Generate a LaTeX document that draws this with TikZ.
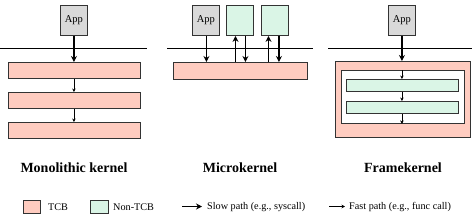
\documentclass[tikz,border=0pt]{standalone}
\usepackage{fontspec}
\setmainfont{Liberation Serif}
\usetikzlibrary{arrows.meta}
\definecolor{tcb}{HTML}{FFCCC0}
\definecolor{ntcb}{HTML}{DAF5E6}
\definecolor{appc}{HTML}{D9D9D9}
\begin{document}
\begin{tikzpicture}[x=1pt,y=-1pt,
  box/.style={draw=black!80, line width=0.9pt, inner sep=0pt, anchor=north west},
  tcbbox/.style={box, fill=tcb},
  ntcbbox/.style={box, fill=ntcb},
  appbox/.style={box, fill=appc, minimum width=27pt, minimum height=30pt, font=\fontsize{10.5}{11}\selectfont},
  slow/.style={-{Stealth[length=6pt,width=6pt]}, line width=1.8pt},
  fast/.style={-{Stealth[length=3.5pt,width=3.5pt]}, line width=0.7pt},
  bar/.style={line width=1pt},
  title/.style={font=\fontsize{14}{16}\selectfont\bfseries},
  leg/.style={font=\fontsize{10.2}{11}\selectfont, anchor=west, inner sep=0pt}
]
\useasboundingbox (0,0) rectangle (474,218);
% ---------- Monolithic ----------
\node[appbox] (app1) at (60,5) {App};
\coordinate (l1a) at (0,48); \coordinate (l1b) at (147,48);
\draw[bar] (l1a) -- (l1b);
\node[tcbbox, minimum width=132pt, minimum height=16pt] (p1) at (8,62) {};
\node[tcbbox, minimum width=132pt, minimum height=16pt] (p2) at (8,92) {};
\node[tcbbox, minimum width=132pt, minimum height=16pt] (p3) at (8,122) {};
\draw[slow] (app1.south) -- (app1.south |- p1.north);
\draw[fast] (app1.south |- p1.south) -- (app1.south |- p2.north);
\draw[fast] (app1.south |- p2.south) -- (app1.south |- p3.north);
\node[title] (t1) at (74,168) {Monolithic kernel};
% ---------- Microkernel ----------
\node[appbox] (app2) at (192,5) {App};
\node[ntcbbox, minimum width=27pt, minimum height=30pt] (g1) at (226,5) {};
\node[ntcbbox, minimum width=27pt, minimum height=30pt] (g2) at (261,5) {};
\coordinate (l2a) at (167,48); \coordinate (l2b) at (313,48);
\draw[bar] (l2a) -- (l2b);
\node[tcbbox, minimum width=134pt, minimum height=17pt] (mk) at (173,62) {};
\draw[slow] ([xshift=0.5pt]app2.south) -- ([xshift=0.5pt]app2.south |- mk.north);
\draw[slow] ([xshift=-4.5pt]g1.south |- mk.north) -- ([xshift=-4.5pt]g1.south);
\draw[slow] ([xshift=5.5pt]g1.south) -- ([xshift=5.5pt]g1.south |- mk.north);
\draw[slow] ([xshift=-6.5pt]g2.south |- mk.north) -- ([xshift=-6.5pt]g2.south);
\draw[slow] ([xshift=4pt]g2.south) -- ([xshift=4pt]g2.south |- mk.north);
\node[title] (t2) at (240,168) {Microkernel};
% ---------- Framekernel ----------
\node[appbox] (app3) at (388,5) {App};
\coordinate (l3a) at (328,48); \coordinate (l3b) at (472,48);
\draw[bar] (l3a) -- (l3b);
\node[tcbbox, minimum width=135pt, minimum height=76pt] (fo) at (335,61) {};
\node[box, fill=white, minimum width=123pt, minimum height=53pt] (fi) at (341,70) {};
\node[ntcbbox, minimum width=112pt, minimum height=12pt] (f1) at (346,79) {};
\node[ntcbbox, minimum width=112pt, minimum height=12pt] (f2) at (346,101) {};
\draw[slow] (app3.south) -- (app3.south |- fo.north);
\draw[fast] (app3.south |- fi.north) -- (app3.south |- f1.north);
\draw[fast] (app3.south |- f1.south) -- (app3.south |- f2.north);
\draw[fast] (app3.south |- f2.south) -- (app3.south |- fi.south);
\node[title] (t3) at (403,168) {Framekernel};
% ---------- Legend ----------
\node[tcbbox, minimum width=17pt, minimum height=13pt] (sw1) at (23,200) {};
\node[leg] (lt1) at (48,207) {TCB};
\node[ntcbbox, minimum width=18pt, minimum height=13pt] (sw2) at (90,200) {};
\node[leg] (lt2) at (113,207) {Non-TCB};
\coordinate (sa) at (182,206.5); \coordinate (sb) at (202,206.5);
\draw[slow] (sa) -- (sb);
\node[leg] (lt3) at (207,207) {Slow path (e.g., syscall)};
\coordinate (fa) at (329,206.5); \coordinate (fb) at (345,206.5);
\draw[fast] (fa) -- (fb);
\node[leg] (lt4) at (349,207) {Fast path (e.g., func call)};
\end{tikzpicture}
\end{document}
